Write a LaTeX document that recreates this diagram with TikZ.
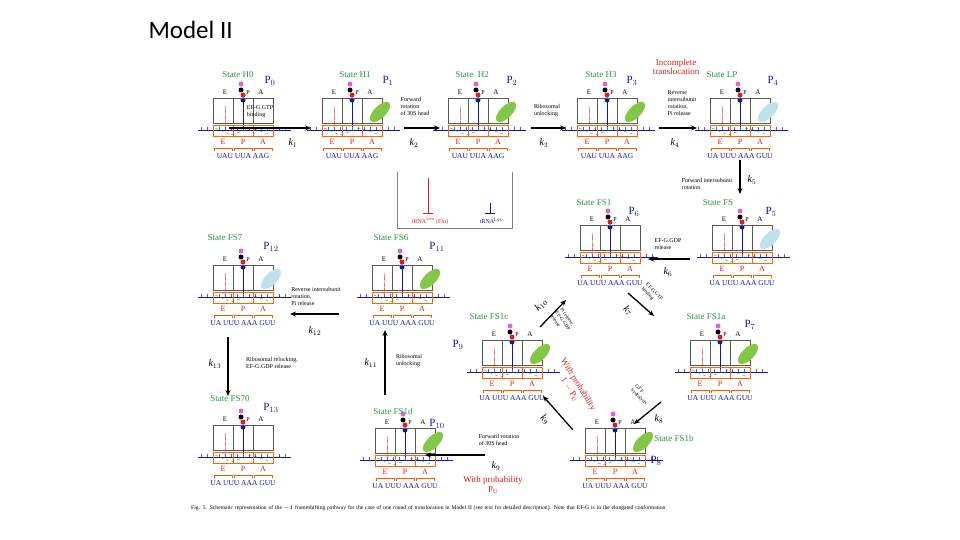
\documentclass[tikz,border=0pt]{standalone}
\usepackage{fontspec}
\setmainfont{Liberation Serif}
\newfontfamily\titlefont{Carlito}
\usetikzlibrary{arrows.meta}
\definecolor{stg}{RGB}{40,150,70}
\definecolor{pb}{RGB}{20,20,170}
\definecolor{rd}{RGB}{220,30,30}
\definecolor{efg}{RGB}{130,200,70}
\definecolor{efgl}{RGB}{190,225,235}
\tikzset{
 st/.style={text=stg,font=\fontsize{9}{10}\selectfont},
 pp/.style={text=pb,font=\fontsize{11}{12}\selectfont},
 ar/.style={-{Stealth[length=6pt,width=5pt]},line width=1.3pt},
 lb/.style={font=\fontsize{6}{7}\selectfont,align=left,inner sep=1pt},
 kk/.style={font=\fontsize{10}{11}\selectfont\itshape},
}
% x,y top-left of box ; codons ; efg colour
\newcommand\ribostate[4]{%
 \begin{scope}[shift={(#1,#2)}]
  \node[font=\fontsize{7}{7}\selectfont] at (12,-6) {E};
  \node[font=\fontsize{7}{7}\selectfont] at (48,-6) {A};
  \node[font=\fontsize{6}{6}\selectfont] at (35,-5) {P};
  \fill[violet!50!magenta!60] (28,-14) circle (2.5);
  \fill[black] (28,-8) circle (2.5);
  \fill[rd] (30,-3) circle (2.5);
  \fill[pb] (30,2) circle (2.5);
  \draw[gray!70!black,line width=0.6pt] (0,0) rectangle (60,25) (20,0)--(20,25) (40,0)--(40,25);
  \draw[pb,line width=0.6pt] (30,2)--(30,30);
  \draw[rd,line width=0.4pt] (12,8) .. controls (13,15) .. (12,30);
  \draw[pb,line width=0.5pt] (-15,32)--(78,32);
  \foreach \t in {-12,-6,...,76} \draw[pb!70,line width=0.3pt] (\t,29)--(\t,32);
  \draw[orange!80!red,line width=0.5pt] (0,27) rectangle (60,38) (20,27)--(20,38) (40,27)--(40,38);
  \draw[green!60!black,dashed,line width=0.3pt] (2,30)--(18,37)--(38,30)--(58,37);
  \ifx#4n\else
   \fill[#4] (58,14) ellipse [x radius=13,y radius=6,rotate=45];
  \fi
  \foreach \xx/\l in {10/E,30/P,50/A}{
   \node[text=rd,font=\fontsize{8}{8}\selectfont] at (\xx,44) {\l};
   \draw[orange!70!red,line width=0.4pt] (\xx-9,53)--(\xx-9,50)--(\xx+9,50)--(\xx+9,53);}
  \node[text=pb,font=\fontsize{7.5}{8}\selectfont] at (30,58) {#3};
 \end{scope}}
\begin{document}
\begin{tikzpicture}[x=1pt,y=-1pt]
\useasboundingbox (0,0) rectangle (960,540);
\fill[white] (0,0) rectangle (960,540);
\node[font=\titlefont\fontsize{25}{28}\selectfont,anchor=west] (title) at (145,30) {Model II};
% --- states
\def\cA{UAU UUA AAG}\def\cB{UA UUU AAA GUU}
\ribostate{213}{98}{\cA}{n}
\ribostate{322}{98}{\cA}{efg}
\ribostate{448}{98}{\cA}{efg}
\ribostate{577}{98}{\cA}{efg}
\ribostate{710}{98}{\cB}{efgl}
\ribostate{712}{225}{\cB}{efgl}
\ribostate{580}{225}{\cB}{n}
\ribostate{213}{265}{\cB}{efgl}
\ribostate{372}{265}{\cB}{efg}
\ribostate{482}{340}{\cB}{efg}
\ribostate{690}{340}{\cB}{efg}
\ribostate{585}{428}{\cB}{efg}
\ribostate{375}{428}{\cB}{efg}
\ribostate{213}{425}{\cB}{n}
% labels
\node[st] (sH0) at (238,75) {State H0}; \node[pp] (p0) at (270,81) {P$_0$};
\node[st] (sH1) at (355,75) {State H1}; \node[pp] (p1) at (388,81) {P$_1$};
\node[st] (sH2) at (472,75) {State~~H2}; \node[pp] (p2) at (512,81) {P$_2$};
\node[st] (sH3) at (601,75) {State H3}; \node[pp] (p3) at (632,81) {P$_3$};
\node[st] (sLP) at (722,75) {State LP}; \node[pp] (p4) at (773,81) {P$_4$};
\node[text=rd,font=\fontsize{9}{9}\selectfont,align=center] (inc) at (676,67) {Incomplete\\translocation};
\node[st] (sFS) at (718,203) {State FS}; \node[pp] (p5) at (771,212) {P$_5$};
\node[st] (sFS1) at (594,203) {State FS1}; \node[pp] (p6) at (634,212) {P$_6$};
\node[st] (sFS7) at (225,238) {State FS7}; \node[pp] (p12) at (271,247) {P$_{12}$};
\node[st] (sFS6) at (391,238) {State FS6}; \node[pp] (p11) at (437,247) {P$_{11}$};
\node[st] (sFS1c) at (489,317) {State FS1c}; \node[pp] (p9) at (458,345) {P$_9$};
\node[st] (sFS1a) at (706,317) {State FS1a}; \node[pp] (p7) at (750,325) {P$_7$};
\node[st] (sFS1b) at (674,438) {State FS1b}; \node[pp] (p8) at (656,461) {P$_8$};
\node[st] (sFS1d) at (393,411) {State FS1d}; \node[pp] (p10) at (437,424) {P$_{10}$};
\node[st] (sFS70) at (230,399) {State FS70}; \node[pp] (p13) at (271,408) {P$_{13}$};
% arrows
\draw[ar] (229,128)--(311,128); \node[lb] at (260,112) {EF-G.GTP\\binding}; \node[kk] at (293,143) {k$_1$};
\draw[ar] (404,128)--(440,128); \node[lb] at (415,106) {Forward\\rotation\\of 30S head}; \node[kk] at (414,143) {k$_2$};
\draw[ar] (531,128)--(566,128); \node[lb] at (547,111) {Ribosomal\\unlocking}; \node[kk] at (544,143) {k$_3$};
\draw[ar] (659,128)--(697,128); \node[lb] at (682,103) {Reverse\\intersubunit\\rotation,\\Pi release}; \node[kk] at (675,143) {k$_4$};
\draw[ar] (740,160)--(740,194); \node[lb] at (707,184) {Forward intersubunit\\rotation}; \node[kk] at (752,180) {k$_5$};
\draw[ar] (690,259)--(648,259); \node[lb] at (668,244) {EF-G.GDP\\release}; \node[kk] at (668,272) {k$_6$};
\draw[ar] (628,293)--(654,316); \node[lb,rotate=-45,font=\fontsize{5}{6}\selectfont] at (652,294) {EF-G.GTP\\binding}; \node[kk,rotate=-45] at (628,311) {k$_7$};
\draw[ar] (661,402)--(634,424); \node[lb,rotate=-45,font=\fontsize{5}{6}\selectfont] at (641,395) {GTP\\hydrolysis}; \node[kk] at (659,419) {k$_8$};
\draw[ar] (485,455)--(425,455); \node[lb] at (499,440) {Forward rotation\\of 30S head}; \node[kk] at (496,466) {k$_9$};
\node[text=rd,font=\fontsize{9}{10}\selectfont,align=center] at (493,485) {With probability\\P$_{\mathrm U}$};
\draw[ar] (573,430)--(543,396); \node[kk,rotate=-45] at (545,420) {k$_9$};
\node[text=rd,font=\fontsize{9}{10}\selectfont,align=center,rotate=-58] at (574,387) {With probability\\1 $-$ P$_{\mathrm U}$};
\draw[ar] (540,327)--(566,300); \node[kk,rotate=45] at (541,305) {k$_{10}$}; \node[lb,rotate=-55,font=\fontsize{5}{6}\selectfont] at (563,321) {Pi release,\\EF-G.GDP\\release};
\draw[ar] (385,395)--(385,330); \node[kk] at (371,363) {k$_{11}$}; \node[lb] at (409,361) {Ribosomal\\unlocking};
\draw[ar] (339,314)--(290,314); \node[lb] at (316,296) {Reverse intersubunit\\rotation,\\Pi release}; \node[kk] at (315,331) {k$_{12}$};
\draw[ar] (228,337)--(228,396); \node[kk] at (215,364) {k$_{13}$}; \node[lb] at (272,363) {Ribosomal relocking,\\EF-G.GDP release};
% legend
\draw[gray,line width=0.6pt] (397,172)--(397,228)--(512,228)--(512,172);
\draw[rd,line width=0.6pt] (428,178)--(428,213) (423,213)--(433,213);
\draw[pb,line width=0.6pt] (490,203)--(490,213) (485,213)--(495,213);
\node[text=rd,font=\fontsize{6}{6}\selectfont] at (430,221) {tRNA$^{\mathrm{Leu}}$ (Flu)};
\node[text=pb,font=\fontsize{6}{6}\selectfont] at (491,221) {tRNA$^{\mathrm{Lys}}$};
% caption
\node[font=\fontsize{5.6}{7}\selectfont,anchor=north west,text width=596pt,align=left,inner sep=0] (cap) at (191,505) {Fig. 5. Schematic representation of the $-1$ frameshifting pathway for the case of one round of translocation in Model II (see text for detailed description). Note that EF-G is in the elongated conformation};
\end{tikzpicture}
\end{document}
